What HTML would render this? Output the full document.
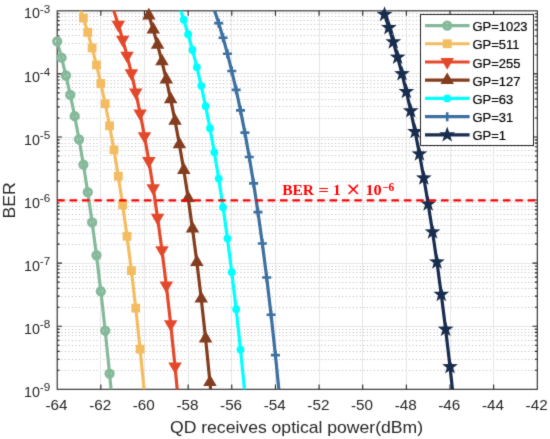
<!DOCTYPE html>
<html><head><meta charset="utf-8"><title>BER vs received optical power</title><style>
html,body{margin:0;padding:0;background:#fff;}
svg{display:block;}
.mn{stroke:#c2c2c2;stroke-width:1;stroke-dasharray:1.1 2.41;stroke-dashoffset:0.1;}
.mj{stroke:#e6e6e6;stroke-width:1;}
.tk{font-family:"Liberation Sans",Arial,sans-serif;font-size:14px;fill:#262626;}
.lg{font-family:"Liberation Sans",Arial,sans-serif;font-size:12.4px;fill:#000;stroke:#000;stroke-width:0.2px;}
.al{font-family:"Liberation Sans",Arial,sans-serif;font-size:16px;fill:#262626;}
</style></head><body>
<svg width="550" height="439" viewBox="0 0 550 439">
<defs><filter id="soft" x="0" y="0" width="550" height="439" filterUnits="userSpaceOnUse" color-interpolation-filters="sRGB"><feConvolveMatrix order="3" kernelMatrix="0.02 0.08 0.02 0.08 0.6 0.08 0.02 0.08 0.02" edgeMode="duplicate" preserveAlpha="true"/></filter><clipPath id="ax"><rect x="57.20" y="10.85" width="480.10" height="378.45"/></clipPath></defs>
<g filter="url(#soft)">
<rect width="550" height="439" fill="#fff"/>
<g><line x1="58" y1="370.50" x2="537" y2="370.50" class="mn"/><line x1="58" y1="359.50" x2="537" y2="359.50" class="mn"/><line x1="58" y1="351.50" x2="537" y2="351.50" class="mn"/><line x1="58" y1="345.50" x2="537" y2="345.50" class="mn"/><line x1="58" y1="340.50" x2="537" y2="340.50" class="mn"/><line x1="58" y1="335.50" x2="537" y2="335.50" class="mn"/><line x1="58" y1="332.50" x2="537" y2="332.50" class="mn"/><line x1="58" y1="329.50" x2="537" y2="329.50" class="mn"/><line x1="58" y1="307.50" x2="537" y2="307.50" class="mn"/><line x1="58" y1="296.50" x2="537" y2="296.50" class="mn"/><line x1="58" y1="288.50" x2="537" y2="288.50" class="mn"/><line x1="58" y1="282.50" x2="537" y2="282.50" class="mn"/><line x1="58" y1="277.50" x2="537" y2="277.50" class="mn"/><line x1="58" y1="272.50" x2="537" y2="272.50" class="mn"/><line x1="58" y1="269.50" x2="537" y2="269.50" class="mn"/><line x1="58" y1="266.50" x2="537" y2="266.50" class="mn"/><line x1="58" y1="244.50" x2="537" y2="244.50" class="mn"/><line x1="58" y1="233.50" x2="537" y2="233.50" class="mn"/><line x1="58" y1="225.50" x2="537" y2="225.50" class="mn"/><line x1="58" y1="219.50" x2="537" y2="219.50" class="mn"/><line x1="58" y1="214.50" x2="537" y2="214.50" class="mn"/><line x1="58" y1="209.50" x2="537" y2="209.50" class="mn"/><line x1="58" y1="206.50" x2="537" y2="206.50" class="mn"/><line x1="58" y1="202.50" x2="537" y2="202.50" class="mn"/><line x1="58" y1="181.50" x2="537" y2="181.50" class="mn"/><line x1="58" y1="169.50" x2="537" y2="169.50" class="mn"/><line x1="58" y1="162.50" x2="537" y2="162.50" class="mn"/><line x1="58" y1="155.50" x2="537" y2="155.50" class="mn"/><line x1="58" y1="150.50" x2="537" y2="150.50" class="mn"/><line x1="58" y1="146.50" x2="537" y2="146.50" class="mn"/><line x1="58" y1="143.50" x2="537" y2="143.50" class="mn"/><line x1="58" y1="139.50" x2="537" y2="139.50" class="mn"/><line x1="58" y1="118.50" x2="537" y2="118.50" class="mn"/><line x1="58" y1="106.50" x2="537" y2="106.50" class="mn"/><line x1="58" y1="99.50" x2="537" y2="99.50" class="mn"/><line x1="58" y1="92.50" x2="537" y2="92.50" class="mn"/><line x1="58" y1="87.50" x2="537" y2="87.50" class="mn"/><line x1="58" y1="83.50" x2="537" y2="83.50" class="mn"/><line x1="58" y1="80.50" x2="537" y2="80.50" class="mn"/><line x1="58" y1="76.50" x2="537" y2="76.50" class="mn"/><line x1="58" y1="54.50" x2="537" y2="54.50" class="mn"/><line x1="58" y1="43.50" x2="537" y2="43.50" class="mn"/><line x1="58" y1="35.50" x2="537" y2="35.50" class="mn"/><line x1="58" y1="29.50" x2="537" y2="29.50" class="mn"/><line x1="58" y1="24.50" x2="537" y2="24.50" class="mn"/><line x1="58" y1="20.50" x2="537" y2="20.50" class="mn"/><line x1="58" y1="16.50" x2="537" y2="16.50" class="mn"/><line x1="58" y1="13.50" x2="537" y2="13.50" class="mn"/><line x1="57.20" y1="326.50" x2="537.30" y2="326.50" class="mj"/><line x1="57.20" y1="263.50" x2="537.30" y2="263.50" class="mj"/><line x1="57.20" y1="200.50" x2="537.30" y2="200.50" class="mj"/><line x1="57.20" y1="137.50" x2="537.30" y2="137.50" class="mj"/><line x1="57.20" y1="73.50" x2="537.30" y2="73.50" class="mj"/><line x1="100.50" y1="10.85" x2="100.50" y2="389.30" class="mj"/><line x1="144.50" y1="10.85" x2="144.50" y2="389.30" class="mj"/><line x1="188.50" y1="10.85" x2="188.50" y2="389.30" class="mj"/><line x1="231.50" y1="10.85" x2="231.50" y2="389.30" class="mj"/><line x1="275.50" y1="10.85" x2="275.50" y2="389.30" class="mj"/><line x1="319.50" y1="10.85" x2="319.50" y2="389.30" class="mj"/><line x1="362.50" y1="10.85" x2="362.50" y2="389.30" class="mj"/><line x1="406.50" y1="10.85" x2="406.50" y2="389.30" class="mj"/><line x1="450.50" y1="10.85" x2="450.50" y2="389.30" class="mj"/><line x1="493.50" y1="10.85" x2="493.50" y2="389.30" class="mj"/></g>
<rect x="57.20" y="10.85" width="480.10" height="378.45" fill="none" stroke="#262626" stroke-width="1.1"/>
<path d="M100.85,389.30v-4.8M100.85,10.85v4.8M144.49,389.30v-4.8M144.49,10.85v4.8M188.14,389.30v-4.8M188.14,10.85v4.8M231.78,389.30v-4.8M231.78,10.85v4.8M275.43,389.30v-4.8M275.43,10.85v4.8M319.07,389.30v-4.8M319.07,10.85v4.8M362.72,389.30v-4.8M362.72,10.85v4.8M406.36,389.30v-4.8M406.36,10.85v4.8M450.01,389.30v-4.8M450.01,10.85v4.8M493.65,389.30v-4.8M493.65,10.85v4.8M57.20,326.23h4.8M537.30,326.23h-4.8M57.20,263.15h4.8M537.30,263.15h-4.8M57.20,200.07h4.8M537.30,200.07h-4.8M57.20,137.00h4.8M537.30,137.00h-4.8M57.20,73.92h4.8M537.30,73.92h-4.8M57.20,370.31h2.5M537.30,370.31h-2.5M57.20,359.21h2.5M537.30,359.21h-2.5M57.20,351.33h2.5M537.30,351.33h-2.5M57.20,345.21h2.5M537.30,345.21h-2.5M57.20,340.22h2.5M537.30,340.22h-2.5M57.20,336.00h2.5M537.30,336.00h-2.5M57.20,332.34h2.5M537.30,332.34h-2.5M57.20,329.11h2.5M537.30,329.11h-2.5M57.20,307.24h2.5M537.30,307.24h-2.5M57.20,296.13h2.5M537.30,296.13h-2.5M57.20,288.25h2.5M537.30,288.25h-2.5M57.20,282.14h2.5M537.30,282.14h-2.5M57.20,277.14h2.5M537.30,277.14h-2.5M57.20,272.92h2.5M537.30,272.92h-2.5M57.20,269.26h2.5M537.30,269.26h-2.5M57.20,266.04h2.5M537.30,266.04h-2.5M57.20,244.16h2.5M537.30,244.16h-2.5M57.20,233.06h2.5M537.30,233.06h-2.5M57.20,225.18h2.5M537.30,225.18h-2.5M57.20,219.06h2.5M537.30,219.06h-2.5M57.20,214.07h2.5M537.30,214.07h-2.5M57.20,209.85h2.5M537.30,209.85h-2.5M57.20,206.19h2.5M537.30,206.19h-2.5M57.20,202.96h2.5M537.30,202.96h-2.5M57.20,181.09h2.5M537.30,181.09h-2.5M57.20,169.98h2.5M537.30,169.98h-2.5M57.20,162.10h2.5M537.30,162.10h-2.5M57.20,155.99h2.5M537.30,155.99h-2.5M57.20,150.99h2.5M537.30,150.99h-2.5M57.20,146.77h2.5M537.30,146.77h-2.5M57.20,143.11h2.5M537.30,143.11h-2.5M57.20,139.89h2.5M537.30,139.89h-2.5M57.20,118.01h2.5M537.30,118.01h-2.5M57.20,106.91h2.5M537.30,106.91h-2.5M57.20,99.03h2.5M537.30,99.03h-2.5M57.20,92.91h2.5M537.30,92.91h-2.5M57.20,87.92h2.5M537.30,87.92h-2.5M57.20,83.70h2.5M537.30,83.70h-2.5M57.20,80.04h2.5M537.30,80.04h-2.5M57.20,76.81h2.5M537.30,76.81h-2.5M57.20,54.94h2.5M537.30,54.94h-2.5M57.20,43.83h2.5M537.30,43.83h-2.5M57.20,35.95h2.5M537.30,35.95h-2.5M57.20,29.84h2.5M537.30,29.84h-2.5M57.20,24.84h2.5M537.30,24.84h-2.5M57.20,20.62h2.5M537.30,20.62h-2.5M57.20,16.96h2.5M537.30,16.96h-2.5M57.20,13.74h2.5M537.30,13.74h-2.5" stroke="#262626" stroke-width="1.1" fill="none"/>
<path d="M52.84,26.32L57.20,41.33L61.56,57.68L65.93,75.51L70.29,94.95L74.66,116.17L79.02,139.32L83.39,164.59L87.75,192.19L92.12,222.34L96.48,255.27L100.85,291.27L105.21,330.61L109.57,373.62L113.94,420.66" stroke="#84B99A" stroke-width="3.2" fill="none" stroke-linejoin="round" clip-path="url(#ax)"/>
<g><circle cx="57.20" cy="41.33" r="3.55" fill="none" stroke="#84B99A" stroke-width="3.2"/><circle cx="61.56" cy="57.68" r="3.55" fill="none" stroke="#84B99A" stroke-width="3.2"/><circle cx="65.93" cy="75.51" r="3.55" fill="none" stroke="#84B99A" stroke-width="3.2"/><circle cx="70.29" cy="94.95" r="3.55" fill="none" stroke="#84B99A" stroke-width="3.2"/><circle cx="74.66" cy="116.17" r="3.55" fill="none" stroke="#84B99A" stroke-width="3.2"/><circle cx="79.02" cy="139.32" r="3.55" fill="none" stroke="#84B99A" stroke-width="3.2"/><circle cx="83.39" cy="164.59" r="3.55" fill="none" stroke="#84B99A" stroke-width="3.2"/><circle cx="87.75" cy="192.19" r="3.55" fill="none" stroke="#84B99A" stroke-width="3.2"/><circle cx="92.12" cy="222.34" r="3.55" fill="none" stroke="#84B99A" stroke-width="3.2"/><circle cx="96.48" cy="255.27" r="3.55" fill="none" stroke="#84B99A" stroke-width="3.2"/><circle cx="100.85" cy="291.27" r="3.55" fill="none" stroke="#84B99A" stroke-width="3.2"/><circle cx="105.21" cy="330.61" r="3.55" fill="none" stroke="#84B99A" stroke-width="3.2"/><circle cx="109.57" cy="373.62" r="3.55" fill="none" stroke="#84B99A" stroke-width="3.2"/></g>
<path d="M79.02,4.96L83.39,18.09L87.75,32.39L92.12,47.98L96.48,64.97L100.85,83.50L105.21,103.72L109.57,125.78L113.94,149.87L118.30,176.17L122.67,204.91L127.03,236.30L131.40,270.61L135.76,308.12L140.13,349.13L144.49,393.98" stroke="#F4BC60" stroke-width="3.2" fill="none" stroke-linejoin="round" clip-path="url(#ax)"/>
<g><rect x="78.99" y="13.69" width="8.8" height="8.8" fill="#F4BC60"/><rect x="83.35" y="27.99" width="8.8" height="8.8" fill="#F4BC60"/><rect x="87.72" y="43.58" width="8.8" height="8.8" fill="#F4BC60"/><rect x="92.08" y="60.57" width="8.8" height="8.8" fill="#F4BC60"/><rect x="96.45" y="79.10" width="8.8" height="8.8" fill="#F4BC60"/><rect x="100.81" y="99.32" width="8.8" height="8.8" fill="#F4BC60"/><rect x="105.17" y="121.38" width="8.8" height="8.8" fill="#F4BC60"/><rect x="109.54" y="145.47" width="8.8" height="8.8" fill="#F4BC60"/><rect x="113.90" y="171.77" width="8.8" height="8.8" fill="#F4BC60"/><rect x="118.27" y="200.51" width="8.8" height="8.8" fill="#F4BC60"/><rect x="122.63" y="231.90" width="8.8" height="8.8" fill="#F4BC60"/><rect x="127.00" y="266.21" width="8.8" height="8.8" fill="#F4BC60"/><rect x="131.36" y="303.72" width="8.8" height="8.8" fill="#F4BC60"/><rect x="135.73" y="344.73" width="8.8" height="8.8" fill="#F4BC60"/></g>
<path d="M109.57,-1.37L113.94,11.12L118.30,24.71L122.67,39.52L127.03,55.64L131.40,73.21L135.76,92.37L140.13,113.27L144.49,136.06L148.86,160.93L153.22,188.08L157.58,217.73L161.95,250.11L166.31,285.48L170.68,324.13L175.04,366.37L179.41,412.54" stroke="#E4482A" stroke-width="3.2" fill="none" stroke-linejoin="round" clip-path="url(#ax)"/>
<g><polygon points="111.55,20.85 125.05,20.85 118.30,32.45" fill="#E4482A"/><polygon points="115.92,35.65 129.42,35.65 122.67,47.25" fill="#E4482A"/><polygon points="120.28,51.77 133.78,51.77 127.03,63.37" fill="#E4482A"/><polygon points="124.65,69.35 138.15,69.35 131.40,80.95" fill="#E4482A"/><polygon points="129.01,88.51 142.51,88.51 135.76,100.11" fill="#E4482A"/><polygon points="133.38,109.40 146.88,109.40 140.13,121.00" fill="#E4482A"/><polygon points="137.74,132.19 151.24,132.19 144.49,143.79" fill="#E4482A"/><polygon points="142.11,157.07 155.61,157.07 148.86,168.67" fill="#E4482A"/><polygon points="146.47,184.22 159.97,184.22 153.22,195.82" fill="#E4482A"/><polygon points="150.83,213.86 164.33,213.86 157.58,225.46" fill="#E4482A"/><polygon points="155.20,246.24 168.70,246.24 161.95,257.84" fill="#E4482A"/><polygon points="159.56,281.61 173.06,281.61 166.31,293.21" fill="#E4482A"/><polygon points="163.93,320.26 177.43,320.26 170.68,331.86" fill="#E4482A"/><polygon points="168.29,362.50 181.79,362.50 175.04,374.10" fill="#E4482A"/></g>
<path d="M144.49,2.74L148.86,15.60L153.22,29.60L157.58,44.86L161.95,61.48L166.31,79.60L170.68,99.35L175.04,120.90L179.41,144.41L183.77,170.07L188.14,198.09L192.50,228.69L196.87,262.11L201.23,298.63L205.59,338.54L209.96,382.16L214.32,429.85" stroke="#843C1E" stroke-width="3.2" fill="none" stroke-linejoin="round" clip-path="url(#ax)"/>
<g><polygon points="142.11,19.47 155.61,19.47 148.86,7.87" fill="#843C1E"/><polygon points="146.47,33.47 159.97,33.47 153.22,21.87" fill="#843C1E"/><polygon points="150.83,48.72 164.33,48.72 157.58,37.12" fill="#843C1E"/><polygon points="155.20,65.35 168.70,65.35 161.95,53.75" fill="#843C1E"/><polygon points="159.56,83.46 173.06,83.46 166.31,71.86" fill="#843C1E"/><polygon points="163.93,103.22 177.43,103.22 170.68,91.62" fill="#843C1E"/><polygon points="168.29,124.76 181.79,124.76 175.04,113.16" fill="#843C1E"/><polygon points="172.66,148.28 186.16,148.28 179.41,136.68" fill="#843C1E"/><polygon points="177.02,173.94 190.52,173.94 183.77,162.34" fill="#843C1E"/><polygon points="181.39,201.96 194.89,201.96 188.14,190.36" fill="#843C1E"/><polygon points="185.75,232.55 199.25,232.55 192.50,220.95" fill="#843C1E"/><polygon points="190.12,265.98 203.62,265.98 196.87,254.38" fill="#843C1E"/><polygon points="194.48,302.49 207.98,302.49 201.23,290.89" fill="#843C1E"/><polygon points="198.84,342.40 212.34,342.40 205.59,330.80" fill="#843C1E"/><polygon points="203.21,386.02 216.71,386.02 209.96,374.42" fill="#843C1E"/></g>
<path d="M179.41,6.46L183.77,19.77L188.14,34.25L192.50,50.00L196.87,67.14L201.23,85.81L205.59,106.12L209.96,128.25L214.32,152.34L218.69,178.59L223.05,207.18L227.42,238.33L231.78,272.27L236.15,309.26L240.51,349.56L244.88,393.48" stroke="#00FFFF" stroke-width="3.2" fill="none" stroke-linejoin="round" clip-path="url(#ax)"/>
<g><circle cx="183.77" cy="19.77" r="3.9" fill="#00FFFF"/><circle cx="188.14" cy="34.25" r="3.9" fill="#00FFFF"/><circle cx="192.50" cy="50.00" r="3.9" fill="#00FFFF"/><circle cx="196.87" cy="67.14" r="3.9" fill="#00FFFF"/><circle cx="201.23" cy="85.81" r="3.9" fill="#00FFFF"/><circle cx="205.59" cy="106.12" r="3.9" fill="#00FFFF"/><circle cx="209.96" cy="128.25" r="3.9" fill="#00FFFF"/><circle cx="214.32" cy="152.34" r="3.9" fill="#00FFFF"/><circle cx="218.69" cy="178.59" r="3.9" fill="#00FFFF"/><circle cx="223.05" cy="207.18" r="3.9" fill="#00FFFF"/><circle cx="227.42" cy="238.33" r="3.9" fill="#00FFFF"/><circle cx="231.78" cy="272.27" r="3.9" fill="#00FFFF"/><circle cx="236.15" cy="309.26" r="3.9" fill="#00FFFF"/><circle cx="240.51" cy="349.56" r="3.9" fill="#00FFFF"/></g>
<path d="M214.32,9.65L218.69,23.13L223.05,37.77L227.42,53.70L231.78,71.02L236.15,89.86L240.51,110.36L244.88,132.66L249.24,156.94L253.60,183.37L257.97,212.14L262.33,243.46L266.70,277.56L271.06,314.70L275.43,355.13L279.79,399.17" stroke="#3C70A0" stroke-width="3.2" fill="none" stroke-linejoin="round" clip-path="url(#ax)"/>
<g><path d="M214.19,23.13H223.19M218.69,18.63V27.63" stroke="#3C70A0" stroke-width="2.6" fill="none"/><path d="M218.55,37.77H227.55M223.05,33.27V42.27" stroke="#3C70A0" stroke-width="2.6" fill="none"/><path d="M222.92,53.70H231.92M227.42,49.20V58.20" stroke="#3C70A0" stroke-width="2.6" fill="none"/><path d="M227.28,71.02H236.28M231.78,66.52V75.52" stroke="#3C70A0" stroke-width="2.6" fill="none"/><path d="M231.65,89.86H240.65M236.15,85.36V94.36" stroke="#3C70A0" stroke-width="2.6" fill="none"/><path d="M236.01,110.36H245.01M240.51,105.86V114.86" stroke="#3C70A0" stroke-width="2.6" fill="none"/><path d="M240.38,132.66H249.38M244.88,128.16V137.16" stroke="#3C70A0" stroke-width="2.6" fill="none"/><path d="M244.74,156.94H253.74M249.24,152.44V161.44" stroke="#3C70A0" stroke-width="2.6" fill="none"/><path d="M249.10,183.37H258.10M253.60,178.87V187.87" stroke="#3C70A0" stroke-width="2.6" fill="none"/><path d="M253.47,212.14H262.47M257.97,207.64V216.64" stroke="#3C70A0" stroke-width="2.6" fill="none"/><path d="M257.83,243.46H266.83M262.33,238.96V247.96" stroke="#3C70A0" stroke-width="2.6" fill="none"/><path d="M262.20,277.56H271.20M266.70,273.06V282.06" stroke="#3C70A0" stroke-width="2.6" fill="none"/><path d="M266.56,314.70H275.56M271.06,310.20V319.20" stroke="#3C70A0" stroke-width="2.6" fill="none"/><path d="M270.93,355.13H279.93M275.43,350.63V359.63" stroke="#3C70A0" stroke-width="2.6" fill="none"/></g>
<path d="M380.18,2.27L384.54,14.50L388.91,27.69L393.27,41.91L397.63,57.26L402.00,73.80L406.36,91.65L410.73,110.89L415.09,131.62L419.46,153.97L423.82,178.06L428.19,204.00L432.55,231.95L436.92,262.03L441.28,294.42L445.64,329.28L450.01,366.77L454.37,407.10" stroke="#182C4E" stroke-width="3.2" fill="none" stroke-linejoin="round" clip-path="url(#ax)"/>
<g><polygon points="384.54,6.20 386.51,11.79 392.43,11.93 387.73,15.53 389.42,21.21 384.54,17.85 379.66,21.21 381.35,15.53 376.65,11.93 382.57,11.79" fill="#182C4E"/><polygon points="388.91,19.39 390.87,24.98 396.80,25.12 392.09,28.72 393.78,34.40 388.91,31.04 384.03,34.40 385.72,28.72 381.01,25.12 386.94,24.98" fill="#182C4E"/><polygon points="393.27,33.61 395.24,39.20 401.16,39.35 396.46,42.95 398.15,48.63 393.27,45.26 388.39,48.63 390.08,42.95 385.38,39.35 391.30,39.20" fill="#182C4E"/><polygon points="397.63,48.96 399.60,54.55 405.53,54.69 400.82,58.29 402.51,63.97 397.63,60.61 392.76,63.97 394.45,58.29 389.74,54.69 395.67,54.55" fill="#182C4E"/><polygon points="402.00,65.50 403.97,71.09 409.89,71.24 405.19,74.84 406.88,80.52 402.00,77.15 397.12,80.52 398.81,74.84 394.11,71.24 400.03,71.09" fill="#182C4E"/><polygon points="406.36,83.35 408.33,88.94 414.26,89.08 409.55,92.68 411.24,98.36 406.36,95.00 401.49,98.36 403.18,92.68 398.47,89.08 404.39,88.94" fill="#182C4E"/><polygon points="410.73,102.59 412.70,108.18 418.62,108.32 413.91,111.92 415.61,117.60 410.73,114.24 405.85,117.60 407.54,111.92 402.83,108.32 408.76,108.18" fill="#182C4E"/><polygon points="415.09,123.32 417.06,128.91 422.99,129.06 418.28,132.66 419.97,138.34 415.09,134.97 410.21,138.34 411.91,132.66 407.20,129.06 413.12,128.91" fill="#182C4E"/><polygon points="419.46,145.67 421.43,151.26 427.35,151.41 422.64,155.01 424.34,160.69 419.46,157.32 414.58,160.69 416.27,155.01 411.56,151.41 417.49,151.26" fill="#182C4E"/><polygon points="423.82,169.76 425.79,175.35 431.72,175.49 427.01,179.09 428.70,184.77 423.82,181.41 418.94,184.77 420.64,179.09 415.93,175.49 421.85,175.35" fill="#182C4E"/><polygon points="428.19,195.70 430.16,201.29 436.08,201.44 431.37,205.04 433.06,210.72 428.19,207.35 423.31,210.72 425.00,205.04 420.29,201.44 426.22,201.29" fill="#182C4E"/><polygon points="432.55,223.65 434.52,229.24 440.44,229.38 435.74,232.98 437.43,238.66 432.55,235.30 427.67,238.66 429.36,232.98 424.66,229.38 430.58,229.24" fill="#182C4E"/><polygon points="436.92,253.73 438.88,259.32 444.81,259.47 440.10,263.07 441.79,268.75 436.92,265.38 432.04,268.75 433.73,263.07 429.02,259.47 434.95,259.32" fill="#182C4E"/><polygon points="441.28,286.12 443.25,291.71 449.17,291.86 444.47,295.46 446.16,301.14 441.28,297.77 436.40,301.14 438.09,295.46 433.39,291.86 439.31,291.71" fill="#182C4E"/><polygon points="445.64,320.98 447.61,326.56 453.54,326.71 448.83,330.31 450.52,335.99 445.64,332.63 440.77,335.99 442.46,330.31 437.75,326.71 443.68,326.56" fill="#182C4E"/><polygon points="450.01,358.47 451.98,364.06 457.90,364.21 453.20,367.81 454.89,373.49 450.01,370.12 445.13,373.49 446.82,367.81 442.12,364.21 448.04,364.06" fill="#182C4E"/></g>
<line x1="57.20" y1="200.47" x2="537.30" y2="200.47" stroke="#FF0000" stroke-width="2.2" stroke-dasharray="7.5 4.88"/>
<g fill="#FF0000" font-family="Liberation Serif, serif" font-weight="bold" font-size="15.5"><text x="282.2" y="194.6">BER</text><text transform="translate(318.4,194.6) scale(1.18,1)">=</text><text x="332.9" y="194.6">1</text><text x="345.4" y="194.6" font-weight="normal" font-family="DejaVu Sans, sans-serif" font-size="18.5">×</text><text transform="translate(365.4,194.6) scale(1.05,1)">10</text><text x="382.4" y="190.5" font-size="11.5">−</text><text x="388.6" y="190.5" font-size="11.5">6</text></g>
<rect x="420.5" y="14.5" width="113.00" height="131.00" fill="#fff" stroke="#262626" stroke-width="1"/>
<line x1="425" y1="25.55" x2="469.6" y2="25.55" stroke="#84B99A" stroke-width="3.2"/>
<circle cx="447.20" cy="25.55" r="3.55" fill="none" stroke="#84B99A" stroke-width="3.2"/>
<text transform="translate(472.5,31.15) scale(1.045,1)" class="lg">GP=1023</text>
<line x1="425" y1="43.77" x2="469.6" y2="43.77" stroke="#F4BC60" stroke-width="3.2"/>
<rect x="442.80" y="39.37" width="8.8" height="8.8" fill="#F4BC60"/>
<text transform="translate(472.5,49.37) scale(1.045,1)" class="lg">GP=511</text>
<line x1="425" y1="61.99" x2="469.6" y2="61.99" stroke="#E4482A" stroke-width="3.2"/>
<polygon points="440.45,58.12 453.95,58.12 447.20,69.72" fill="#E4482A"/>
<text transform="translate(472.5,67.59) scale(1.045,1)" class="lg">GP=255</text>
<line x1="425" y1="80.21" x2="469.6" y2="80.21" stroke="#843C1E" stroke-width="3.2"/>
<polygon points="440.45,84.08 453.95,84.08 447.20,72.48" fill="#843C1E"/>
<text transform="translate(472.5,85.81) scale(1.045,1)" class="lg">GP=127</text>
<line x1="425" y1="98.43" x2="469.6" y2="98.43" stroke="#00FFFF" stroke-width="3.2"/>
<circle cx="447.20" cy="98.43" r="3.9" fill="#00FFFF"/>
<text transform="translate(472.5,104.03) scale(1.045,1)" class="lg">GP=63</text>
<line x1="425" y1="116.65" x2="469.6" y2="116.65" stroke="#3C70A0" stroke-width="3.2"/>
<path d="M442.70,116.65H451.70M447.20,112.15V121.15" stroke="#3C70A0" stroke-width="2.6" fill="none"/>
<text transform="translate(472.5,122.25) scale(1.045,1)" class="lg">GP=31</text>
<line x1="425" y1="134.87" x2="469.6" y2="134.87" stroke="#182C4E" stroke-width="3.2"/>
<polygon points="447.20,126.57 449.17,132.16 455.09,132.31 450.39,135.91 452.08,141.58 447.20,138.22 442.32,141.58 444.01,135.91 439.31,132.31 445.23,132.16" fill="#182C4E"/>
<text transform="translate(472.5,140.47) scale(1.045,1)" class="lg">GP=1</text>
<text transform="translate(56.50,409.9) scale(1.09,1)" class="tk" text-anchor="middle"><tspan dy="1.2">-</tspan><tspan dy="-1.2">64</tspan></text><text transform="translate(100.15,409.9) scale(1.09,1)" class="tk" text-anchor="middle"><tspan dy="1.2">-</tspan><tspan dy="-1.2">62</tspan></text><text transform="translate(143.79,409.9) scale(1.09,1)" class="tk" text-anchor="middle"><tspan dy="1.2">-</tspan><tspan dy="-1.2">60</tspan></text><text transform="translate(187.44,409.9) scale(1.09,1)" class="tk" text-anchor="middle"><tspan dy="1.2">-</tspan><tspan dy="-1.2">58</tspan></text><text transform="translate(231.08,409.9) scale(1.09,1)" class="tk" text-anchor="middle"><tspan dy="1.2">-</tspan><tspan dy="-1.2">56</tspan></text><text transform="translate(274.73,409.9) scale(1.09,1)" class="tk" text-anchor="middle"><tspan dy="1.2">-</tspan><tspan dy="-1.2">54</tspan></text><text transform="translate(318.37,409.9) scale(1.09,1)" class="tk" text-anchor="middle"><tspan dy="1.2">-</tspan><tspan dy="-1.2">52</tspan></text><text transform="translate(362.02,409.9) scale(1.09,1)" class="tk" text-anchor="middle"><tspan dy="1.2">-</tspan><tspan dy="-1.2">50</tspan></text><text transform="translate(405.66,409.9) scale(1.09,1)" class="tk" text-anchor="middle"><tspan dy="1.2">-</tspan><tspan dy="-1.2">48</tspan></text><text transform="translate(449.31,409.9) scale(1.09,1)" class="tk" text-anchor="middle"><tspan dy="1.2">-</tspan><tspan dy="-1.2">46</tspan></text><text transform="translate(492.95,409.9) scale(1.09,1)" class="tk" text-anchor="middle"><tspan dy="1.2">-</tspan><tspan dy="-1.2">44</tspan></text><text transform="translate(536.60,409.9) scale(1.09,1)" class="tk" text-anchor="middle"><tspan dy="1.2">-</tspan><tspan dy="-1.2">42</tspan></text><text transform="translate(50.3,396.90) scale(1.02,1)" class="tk" text-anchor="end">10<tspan dy="-5.6" font-size="11.5">-9</tspan></text><text transform="translate(50.3,333.83) scale(1.02,1)" class="tk" text-anchor="end">10<tspan dy="-5.6" font-size="11.5">-8</tspan></text><text transform="translate(50.3,270.75) scale(1.02,1)" class="tk" text-anchor="end">10<tspan dy="-5.6" font-size="11.5">-7</tspan></text><text transform="translate(50.3,207.67) scale(1.02,1)" class="tk" text-anchor="end">10<tspan dy="-5.6" font-size="11.5">-6</tspan></text><text transform="translate(50.3,144.60) scale(1.02,1)" class="tk" text-anchor="end">10<tspan dy="-5.6" font-size="11.5">-5</tspan></text><text transform="translate(50.3,81.52) scale(1.02,1)" class="tk" text-anchor="end">10<tspan dy="-5.6" font-size="11.5">-4</tspan></text><text transform="translate(50.3,18.45) scale(1.02,1)" class="tk" text-anchor="end">10<tspan dy="-5.6" font-size="11.5">-3</tspan></text>
<text transform="translate(296.5,432.8) scale(1.10,1)" class="al" text-anchor="middle">QD receives optical power(dBm)</text>
<text transform="translate(14.8,200.5) rotate(-90) scale(1.1,1)" class="al" text-anchor="middle">BER</text>
</g></svg>
</body></html>
